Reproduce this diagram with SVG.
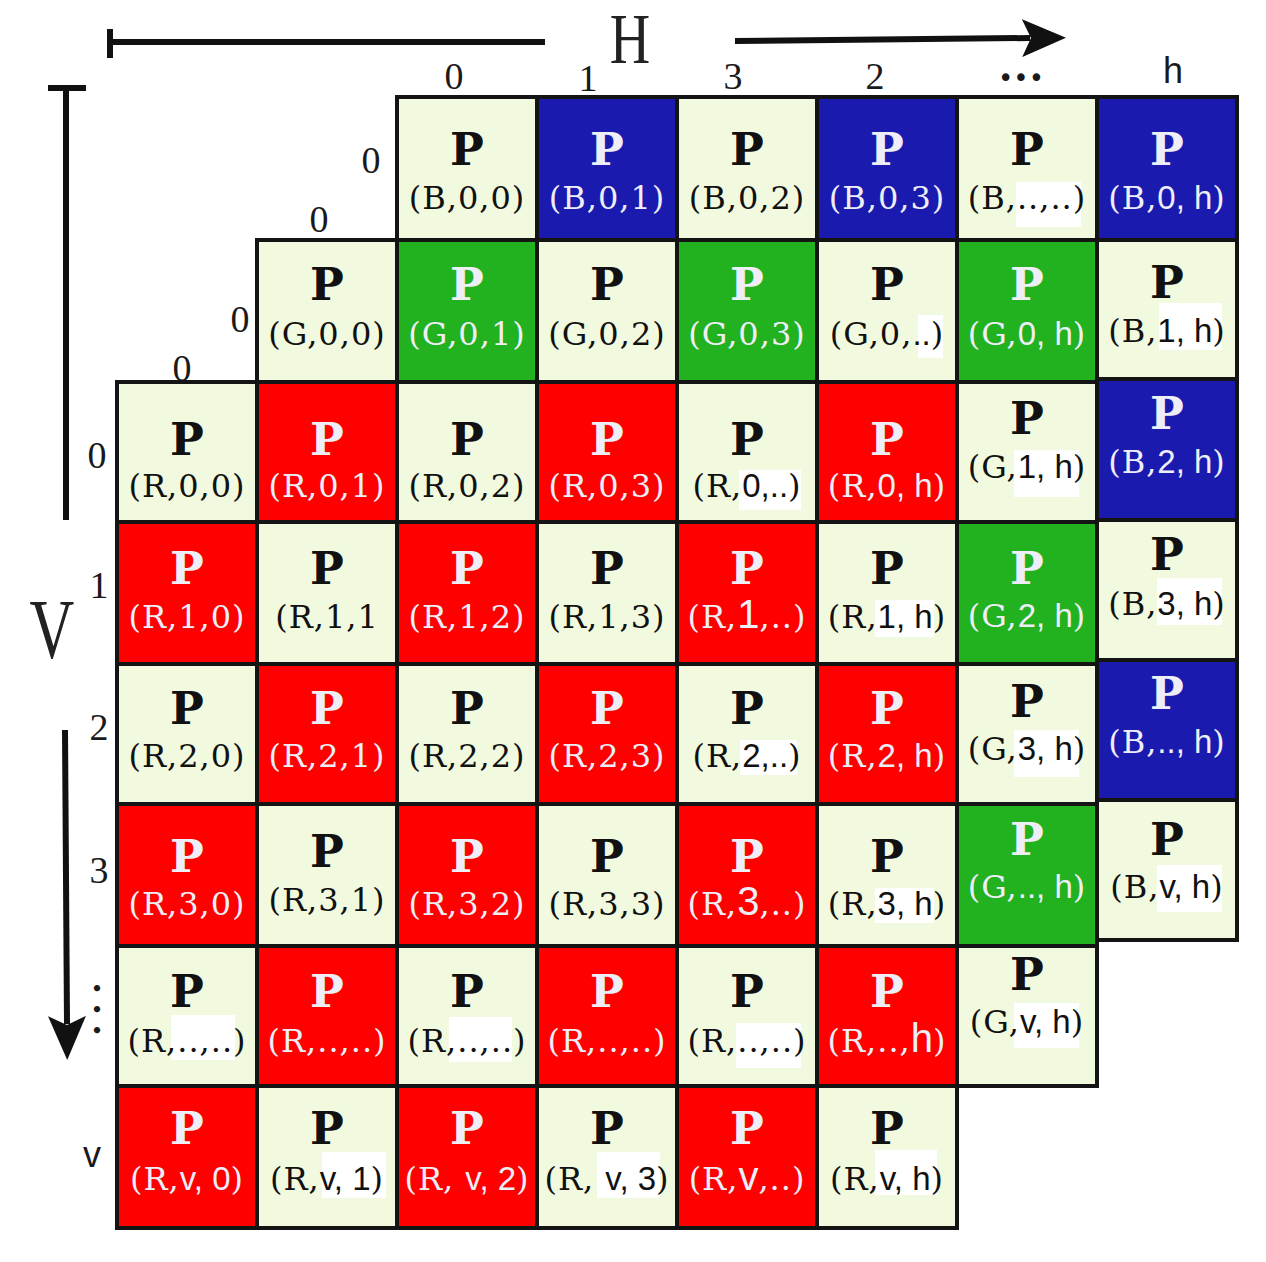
<svg xmlns="http://www.w3.org/2000/svg" width="1266" height="1262" viewBox="0 0 1266 1262">
<style>
.c{stroke:#141414;stroke-width:4}
.cr{fill:#F1FADF}.rd{fill:#FE0000}.gr{fill:#22B11F}.bl{fill:#1A1AAE}
.pa{fill:#FFFFFF}
.p{font-family:"DejaVu Serif",serif;font-weight:bold;font-size:45px;text-anchor:middle}
.l{font-family:"DejaVu Serif",serif;font-size:32px;text-anchor:middle;letter-spacing:1px}
.k{fill:#111111}.w{fill:#EEEEF8}
.ss{font-family:"Liberation Sans",Arial,sans-serif;font-size:33px;letter-spacing:0}
.sb{font-family:"Liberation Sans",Arial,sans-serif;font-size:40px;letter-spacing:0}
.ax{font-family:"Liberation Serif","Times New Roman",serif;font-size:38px;text-anchor:middle;fill:#1a1a1a}
.axs{font-family:"Liberation Sans",Arial,sans-serif;font-size:36px;text-anchor:middle;fill:#1a1a1a}
.dot{font-family:"DejaVu Sans",sans-serif;font-size:26px;text-anchor:middle;fill:#1a1a1a}
.vd{font-family:"DejaVu Sans",sans-serif;font-size:18px;font-weight:bold;text-anchor:middle;fill:#1a1a1a}
.big{font-family:"Liberation Serif","Times New Roman",serif;text-anchor:middle;fill:#222222}
.axl{stroke:#111111;stroke-width:6;fill:none}
</style>
<defs>
<marker id="ah" viewBox="0 0 44 38" refX="8" refY="19" markerWidth="44" markerHeight="38" markerUnits="userSpaceOnUse" orient="auto">
<path d="M0,0 L44,19 L0,38 L9,19 z" fill="#111111"/>
</marker>
</defs>

<g id="axes">
<line class="axl" x1="110" y1="42" x2="545" y2="42"/>
<line class="axl" x1="110" y1="29" x2="110" y2="58"/>
<line class="axl" x1="735" y1="41" x2="1030" y2="38" marker-end="url(#ah)"/>
<line class="axl" x1="48" y1="88" x2="86" y2="88"/>
<line class="axl" x1="66" y1="88" x2="66" y2="520"/>
<line class="axl" x1="65" y1="730" x2="67" y2="1024" marker-end="url(#ah)"/>
<text class="big" font-size="56" transform="translate(630,63) scale(1,1.3)">H</text>
<text class="big" font-size="62" transform="translate(52,658) scale(1,1.37)">V</text>
</g>

<g id="axis-labels">
<text class="ax" x="454" y="89">0</text>
<text class="ax" x="588" y="91">1</text>
<text class="ax" x="733" y="89">3</text>
<text class="ax" x="875" y="89">2</text>
<text class="dot" x="1021" y="87">•••</text>
<text class="axs" x="1173" y="83" font-size="30">h</text>
<text class="ax" x="371" y="173">0</text>
<text class="ax" x="319" y="232">0</text>
<text class="ax" x="240" y="332">0</text>
<text class="ax" x="182" y="381">0</text>
<text class="ax" x="97" y="468">0</text>
<text class="ax" x="99" y="598">1</text>
<text class="ax" x="99" y="740">2</text>
<text class="ax" x="99" y="883">3</text>
<text class="vd" x="97" y="995">•</text>
<text class="vd" x="97" y="1016">•</text>
<text class="vd" x="97" y="1037">•</text>
<text class="axs" x="92" y="1167">v</text>
</g>

<g id="blue-layer">
<g id="b-0-0"><rect class="c cr" x="397" y="97" width="140" height="143"/><text class="p k" x="467" y="165">P</text><text class="l k" x="467" y="209">(B,0,0)</text></g>
<g id="b-0-1"><rect class="c bl" x="537" y="97" width="140" height="143"/><text class="p w" x="607" y="165">P</text><text class="l w" x="607" y="209">(B,0,1)</text></g>
<g id="b-0-2"><rect class="c cr" x="677" y="97" width="140" height="143"/><text class="p k" x="747" y="165">P</text><text class="l k" x="747" y="209">(B,0,2)</text></g>
<g id="b-0-3"><rect class="c bl" x="817" y="97" width="140" height="143"/><text class="p w" x="887" y="165">P</text><text class="l w" x="887" y="209">(B,0,3)</text></g>
<g id="b-0-x"><rect class="c cr" x="957" y="97" width="140" height="143"/><rect class="pa" x="1016" y="182" width="65" height="45"/><text class="p k" x="1027" y="165">P</text><text class="l k" x="1027" y="209">(B,..,..)</text></g>
<g id="b-0-h"><rect class="c bl" x="1097" y="97" width="140" height="143"/><text class="p w" x="1167" y="165">P</text><text class="l w" x="1167" y="209">(B,<tspan class="ss">0, h</tspan>)</text></g>
<g id="b-1-h"><rect class="c cr" x="1097" y="240" width="140" height="139"/><rect class="pa" x="1159" y="303" width="63" height="47"/><text class="p k" x="1167" y="298">P</text><text class="l k" x="1167" y="342">(B,<tspan class="ss">1, h</tspan>)</text></g>
<g id="b-2-h"><rect class="c bl" x="1097" y="379" width="140" height="141"/><text class="p w" x="1167" y="429">P</text><text class="l w" x="1167" y="473">(B,<tspan class="ss">2, h</tspan>)</text></g>
<g id="b-3-h"><rect class="c cr" x="1097" y="520" width="140" height="140"/><rect class="pa" x="1157" y="578" width="65" height="47"/><text class="p k" x="1167" y="570">P</text><text class="l k" x="1167" y="615">(B,<tspan class="ss">3, h</tspan>)</text></g>
<g id="b-x-h"><rect class="c bl" x="1097" y="660" width="140" height="140"/><text class="p w" x="1167" y="709">P</text><text class="l w" x="1167" y="753">(B,<tspan class="ss">.., h</tspan>)</text></g>
<g id="b-v-h"><rect class="c cr" x="1097" y="800" width="140" height="140"/><rect class="pa" x="1157" y="865" width="65" height="47"/><text class="p k" x="1167" y="855">P</text><text class="l k" x="1167" y="898">(B,<tspan class="ss">v, h</tspan>)</text></g>
</g>

<g id="green-layer">
<g id="g-0-0"><rect class="c cr" x="257" y="240" width="140" height="142"/><text class="p k" x="327" y="300">P</text><text class="l k" x="327" y="345">(G,0,0)</text></g>
<g id="g-0-1"><rect class="c gr" x="397" y="240" width="140" height="142"/><text class="p w" x="467" y="300">P</text><text class="l w" x="467" y="345">(G,0,1)</text></g>
<g id="g-0-2"><rect class="c cr" x="537" y="240" width="140" height="142"/><text class="p k" x="607" y="300">P</text><text class="l k" x="607" y="345">(G,0,2)</text></g>
<g id="g-0-3"><rect class="c gr" x="677" y="240" width="140" height="142"/><text class="p w" x="747" y="300">P</text><text class="l w" x="747" y="345">(G,0,3)</text></g>
<g id="g-0-x"><rect class="c cr" x="817" y="240" width="140" height="142"/><rect class="pa" x="918" y="315" width="25" height="43"/><text class="p k" x="887" y="300">P</text><text class="l k" x="887" y="345">(G,0,<tspan class="ss">..</tspan>)</text></g>
<g id="g-0-h"><rect class="c gr" x="957" y="240" width="140" height="142"/><text class="p w" x="1027" y="300">P</text><text class="l w" x="1027" y="345">(G,<tspan class="ss">0, h</tspan>)</text></g>
<g id="g-1-h"><rect class="c cr" x="957" y="382" width="140" height="140"/><rect class="pa" x="1014" y="450" width="65" height="47"/><text class="p k" x="1027" y="434">P</text><text class="l k" x="1027" y="478">(G,<tspan class="ss">1, h</tspan>)</text></g>
<g id="g-2-h"><rect class="c gr" x="957" y="522" width="140" height="142"/><text class="p w" x="1027" y="584">P</text><text class="l w" x="1027" y="627">(G,<tspan class="ss">2, h</tspan>)</text></g>
<g id="g-3-h"><rect class="c cr" x="957" y="664" width="140" height="140"/><rect class="pa" x="1014" y="730" width="65" height="47"/><text class="p k" x="1027" y="717">P</text><text class="l k" x="1027" y="760">(G,<tspan class="ss">3, h</tspan>)</text></g>
<g id="g-x-h"><rect class="c gr" x="957" y="804" width="140" height="142"/><text class="p w" x="1027" y="855">P</text><text class="l w" x="1027" y="898">(G,<tspan class="ss">.., h</tspan>)</text></g>
<g id="g-v-h"><rect class="c cr" x="957" y="946" width="140" height="140"/><rect class="pa" x="1014" y="1003" width="65" height="45"/><text class="p k" x="1027" y="990">P</text><text class="l k" x="1027" y="1033">(G,<tspan class="ss">v, h</tspan>)</text></g>
</g>

<g id="red-layer">
<g id="r-0-0"><rect class="c cr" x="117" y="382" width="140" height="140"/><text class="p k" x="187" y="455">P</text><text class="l k" x="187" y="497">(R,0,0)</text></g>
<g id="r-0-1"><rect class="c rd" x="257" y="382" width="140" height="140"/><text class="p w" x="327" y="455">P</text><text class="l w" x="327" y="497">(R,0,1)</text></g>
<g id="r-0-2"><rect class="c cr" x="397" y="382" width="140" height="140"/><text class="p k" x="467" y="455">P</text><text class="l k" x="467" y="497">(R,0,2)</text></g>
<g id="r-0-3"><rect class="c rd" x="537" y="382" width="140" height="140"/><text class="p w" x="607" y="455">P</text><text class="l w" x="607" y="497">(R,0,3)</text></g>
<g id="r-0-x"><rect class="c cr" x="677" y="382" width="140" height="140"/><rect class="pa" x="739" y="470" width="62" height="40"/><text class="p k" x="747" y="455">P</text><text class="l k" x="747" y="497">(R,<tspan class="ss">0,..</tspan>)</text></g>
<g id="r-0-h"><rect class="c rd" x="817" y="382" width="140" height="140"/><text class="p w" x="887" y="455">P</text><text class="l w" x="887" y="497">(R,<tspan class="ss">0, h</tspan>)</text></g>

<g id="r-1-0"><rect class="c rd" x="117" y="522" width="140" height="142"/><text class="p w" x="187" y="584">P</text><text class="l w" x="187" y="628">(R,1,0)</text></g>
<g id="r-1-1"><rect class="c cr" x="257" y="522" width="140" height="142"/><text class="p k" x="327" y="584">P</text><text class="l k" x="327" y="628">(R,1,1</text></g>
<g id="r-1-2"><rect class="c rd" x="397" y="522" width="140" height="142"/><text class="p w" x="467" y="584">P</text><text class="l w" x="467" y="628">(R,1,2)</text></g>
<g id="r-1-3"><rect class="c cr" x="537" y="522" width="140" height="142"/><text class="p k" x="607" y="584">P</text><text class="l k" x="607" y="628">(R,1,3)</text></g>
<g id="r-1-x"><rect class="c rd" x="677" y="522" width="140" height="142"/><text class="p w" x="747" y="584">P</text><text class="l w" x="747" y="628">(R,<tspan class="sb">1</tspan>,..)</text></g>
<g id="r-1-h"><rect class="c cr" x="817" y="522" width="140" height="142"/><rect class="pa" x="875" y="600" width="59" height="37"/><text class="p k" x="887" y="584">P</text><text class="l k" x="887" y="628">(R,<tspan class="ss">1, h</tspan>)</text></g>

<g id="r-2-0"><rect class="c cr" x="117" y="664" width="140" height="140"/><text class="p k" x="187" y="724">P</text><text class="l k" x="187" y="767">(R,2,0)</text></g>
<g id="r-2-1"><rect class="c rd" x="257" y="664" width="140" height="140"/><text class="p w" x="327" y="724">P</text><text class="l w" x="327" y="767">(R,2,1)</text></g>
<g id="r-2-2"><rect class="c cr" x="397" y="664" width="140" height="140"/><text class="p k" x="467" y="724">P</text><text class="l k" x="467" y="767">(R,2,2)</text></g>
<g id="r-2-3"><rect class="c rd" x="537" y="664" width="140" height="140"/><text class="p w" x="607" y="724">P</text><text class="l w" x="607" y="767">(R,2,3)</text></g>
<g id="r-2-x"><rect class="c cr" x="677" y="664" width="140" height="140"/><rect class="pa" x="740" y="740" width="57" height="35"/><text class="p k" x="747" y="724">P</text><text class="l k" x="747" y="767">(R,<tspan class="ss">2,..</tspan>)</text></g>
<g id="r-2-h"><rect class="c rd" x="817" y="664" width="140" height="140"/><text class="p w" x="887" y="724">P</text><text class="l w" x="887" y="767">(R,<tspan class="ss">2, h</tspan>)</text></g>

<g id="r-3-0"><rect class="c rd" x="117" y="804" width="140" height="142"/><text class="p w" x="187" y="872">P</text><text class="l w" x="187" y="915">(R,3,0)</text></g>
<g id="r-3-1"><rect class="c cr" x="257" y="804" width="140" height="142"/><text class="p k" x="327" y="867">P</text><text class="l k" x="327" y="911">(R,3,1)</text></g>
<g id="r-3-2"><rect class="c rd" x="397" y="804" width="140" height="142"/><text class="p w" x="467" y="872">P</text><text class="l w" x="467" y="915">(R,3,2)</text></g>
<g id="r-3-3"><rect class="c cr" x="537" y="804" width="140" height="142"/><text class="p k" x="607" y="872">P</text><text class="l k" x="607" y="915">(R,3,3)</text></g>
<g id="r-3-x"><rect class="c rd" x="677" y="804" width="140" height="142"/><text class="p w" x="747" y="872">P</text><text class="l w" x="747" y="915">(R,<tspan class="sb">3</tspan>,..)</text></g>
<g id="r-3-h"><rect class="c cr" x="817" y="804" width="140" height="142"/><rect class="pa" x="875" y="888" width="59" height="35"/><text class="p k" x="887" y="872">P</text><text class="l k" x="887" y="915">(R,<tspan class="ss">3, h</tspan>)</text></g>

<g id="r-x-0"><rect class="c cr" x="117" y="946" width="140" height="140"/><rect class="pa" x="171" y="1015" width="64" height="45"/><text class="p k" x="187" y="1007">P</text><text class="l k" x="187" y="1052">(R,..,..)</text></g>
<g id="r-x-1"><rect class="c rd" x="257" y="946" width="140" height="140"/><text class="p w" x="327" y="1007">P</text><text class="l w" x="327" y="1052">(R,..,..)</text></g>
<g id="r-x-2"><rect class="c cr" x="397" y="946" width="140" height="140"/><rect class="pa" x="449" y="1017" width="63" height="45"/><text class="p k" x="467" y="1007">P</text><text class="l k" x="467" y="1052">(R,..,..)</text></g>
<g id="r-x-3"><rect class="c rd" x="537" y="946" width="140" height="140"/><text class="p w" x="607" y="1007">P</text><text class="l w" x="607" y="1052">(R,..,..)</text></g>
<g id="r-x-x"><rect class="c cr" x="677" y="946" width="140" height="140"/><rect class="pa" x="736" y="1023" width="65" height="45"/><text class="p k" x="747" y="1007">P</text><text class="l k" x="747" y="1052">(R,..,..)</text></g>
<g id="r-x-h"><rect class="c rd" x="817" y="946" width="140" height="140"/><text class="p w" x="887" y="1007">P</text><text class="l w" x="887" y="1052">(R,..,<tspan class="sb">h</tspan>)</text></g>

<g id="r-v-0"><rect class="c rd" x="117" y="1086" width="140" height="142"/><text class="p w" x="187" y="1144">P</text><text class="l w" x="187" y="1190">(R,<tspan class="ss">v, 0</tspan>)</text></g>
<g id="r-v-1"><rect class="c cr" x="257" y="1086" width="140" height="142"/><rect class="pa" x="322" y="1152" width="64" height="46"/><text class="p k" x="327" y="1144">P</text><text class="l k" x="327" y="1190">(R,<tspan class="ss">v, 1</tspan>)</text></g>
<g id="r-v-2"><rect class="c rd" x="397" y="1086" width="140" height="142"/><text class="p w" x="467" y="1144">P</text><text class="l w" x="467" y="1190">(R, <tspan class="ss">v, 2</tspan>)</text></g>
<g id="r-v-3"><rect class="c cr" x="537" y="1086" width="140" height="142"/><rect class="pa" x="597" y="1152" width="63" height="46"/><text class="p k" x="607" y="1144">P</text><text class="l k" x="607" y="1190">(R, <tspan class="ss">v, 3</tspan>)</text></g>
<g id="r-v-x"><rect class="c rd" x="677" y="1086" width="140" height="142"/><text class="p w" x="747" y="1144">P</text><text class="l w" x="747" y="1190">(R,<tspan class="sb">v</tspan>,..)</text></g>
<g id="r-v-h"><rect class="c cr" x="817" y="1086" width="140" height="142"/><rect class="pa" x="875" y="1150" width="62" height="45"/><text class="p k" x="887" y="1144">P</text><text class="l k" x="887" y="1190">(R,<tspan class="ss">v, h</tspan>)</text></g>
</g>
</svg>
